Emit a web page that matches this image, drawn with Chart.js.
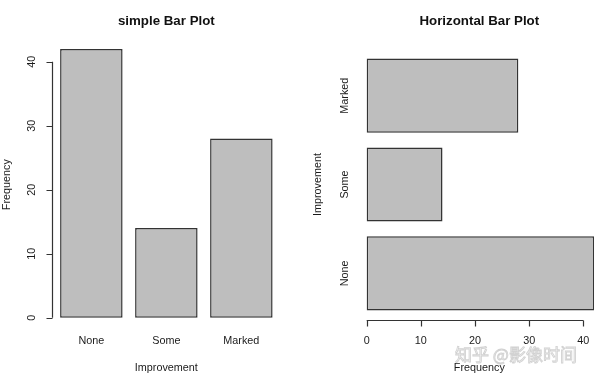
<!DOCTYPE html>
<html>
<head>
<meta charset="utf-8">
<script src="https://cdn.jsdelivr.net/npm/chart.js@4/dist/chart.umd.min.js"></script>
<style>
  html, body { margin: 0; padding: 0; background: #fff; }
  body { width: 600px; height: 381px; overflow: hidden; position: relative; }
  .panel { position: absolute; top: 0; }
</style>
</head>
<body>
<div class="panel" style="left:0;width:300px;height:381px"><canvas id="c1" width="300" height="381"></canvas></div>
<div class="panel" style="left:300px;width:300px;height:381px"><canvas id="c2" width="300" height="381"></canvas></div>
<script>
// ---- data ----
const categories = ['None', 'Some', 'Marked'];
const frequencies = [42, 14, 28];
const valueTicks = [0, 10, 20, 30, 40];
const titleLeft = 'simple Bar Plot';
const titleRight = 'Horizontal Bar Plot';
const catTitle = 'Improvement';
const valTitle = 'Frequency';
const watermark = '知乎 @影像时间';

const FONT = '"Liberation Sans", Arial, Helvetica, sans-serif';
const TXT = '#1a1a1a';
const AX = '#333333';
const space = 0.2; // R barplot space between bars
const barFrac = 1 / (1 + space);
const vMax = Math.max(...frequencies);
const vMin = -0.01 * vMax; // R barplot: range includes -0.01*height, yaxs="i"

// fraction of a category step from first bar centre to the R plot-region edge
function edgeFrac(n) {
  const lo = space, hi = n * (1 + space);
  const ext = 0.04 * (hi - lo);
  return (space + 0.5 - (lo - ext)) / (1 + space);
}

const rAxes = {
  id: 'rAxes',
  afterDraw(chart, args, o) {
    const ctx = chart.ctx;
    const horiz = o.horizontal;
    const vs = horiz ? chart.scales.x : chart.scales.y;
    const cs = horiz ? chart.scales.y : chart.scales.x;
    const n = categories.length;
    const c0 = cs.getPixelForValue(0);
    const cN = cs.getPixelForValue(n - 1);
    const step = (cN - c0) / (n - 1);
    const f = edgeFrac(n);
    const regA = c0 - f * step;   // region edge near first category
    const regB = cN + f * step;
    ctx.save();
    ctx.strokeStyle = AX;
    ctx.fillStyle = TXT;
    ctx.lineWidth = 1.2;
    const fs = 10.8;
    ctx.font = fs + 'px ' + FONT;
    const t0 = vs.getPixelForValue(valueTicks[0]);
    const t1 = vs.getPixelForValue(valueTicks[valueTicks.length - 1]);
    let regionMid;
    if (!horiz) {
      const ax = Math.round(regA) + 0.5;
      ctx.beginPath();
      ctx.moveTo(ax, t0); ctx.lineTo(ax, t1);
      valueTicks.forEach(v => {
        const p = Math.round(vs.getPixelForValue(v)) + 0.5;
        ctx.moveTo(ax, p); ctx.lineTo(ax - 6, p);
      });
      ctx.stroke();
      valueTicks.forEach(v => {
        const p = vs.getPixelForValue(v);
        ctx.save();
        ctx.translate(regA - 20, p);
        ctx.rotate(-Math.PI / 2);
        ctx.textAlign = 'center'; ctx.textBaseline = 'middle';
        ctx.fillText(String(v), 0, 0);
        ctx.restore();
      });
      const bottom = chart.chartArea.bottom;
      ctx.textAlign = 'center'; ctx.textBaseline = 'middle';
      categories.forEach((c, i) => ctx.fillText(c, cs.getPixelForValue(i), bottom + 20.3));
      regionMid = (regA + regB) / 2;
      ctx.fillText(catTitle, regionMid, bottom + 47.3);
      ctx.save();
      ctx.translate(regA - 45, (chart.chartArea.top + bottom) / 2);
      ctx.rotate(-Math.PI / 2);
      ctx.fillText(valTitle, 0, 0);
      ctx.restore();
    } else {
      const ay = Math.round(regA) + 0.5;
      ctx.beginPath();
      ctx.moveTo(t0, ay); ctx.lineTo(t1, ay);
      valueTicks.forEach(v => {
        const p = Math.round(vs.getPixelForValue(v)) + 0.5;
        ctx.moveTo(p, ay); ctx.lineTo(p, ay + 6);
      });
      ctx.stroke();
      ctx.textAlign = 'center'; ctx.textBaseline = 'middle';
      valueTicks.forEach(v => ctx.fillText(String(v), vs.getPixelForValue(v), regA + 20.3));
      const left = chart.chartArea.left;
      categories.forEach((c, i) => {
        ctx.save();
        ctx.translate(left - 19.4, cs.getPixelForValue(i));
        ctx.rotate(-Math.PI / 2);
        ctx.fillText(c, 0, 0);
        ctx.restore();
      });
      regionMid = (left + chart.chartArea.right) / 2;
      const vMid = (regA + regB) / 2;
      ctx.save();
      ctx.translate(left - 46, vMid);
      ctx.rotate(-Math.PI / 2);
      ctx.fillText(catTitle, 0, 0);
      ctx.restore();
      // watermark (outlined, light)
      ctx.save();
      ctx.font = '17px "Noto Sans CJK SC", sans-serif';
      ctx.textAlign = 'left'; ctx.textBaseline = 'middle';
      ctx.lineWidth = 0.9;
      ctx.strokeStyle = '#d2d2d2';
      ctx.fillStyle = '#ffffff';
      ctx.fillText(watermark, 155, 355);
      ctx.strokeText(watermark, 155, 355);
      ctx.restore();
      ctx.fillStyle = TXT;
      ctx.font = fs + 'px ' + FONT;
      ctx.fillText(valTitle, regionMid, regA + 47.9);
    }
    // title
    ctx.font = 'bold 13.3px ' + FONT;
    ctx.fillStyle = '#111';
    ctx.textAlign = 'center'; ctx.textBaseline = 'middle';
    ctx.fillText(o.title, regionMid, 21.7);
    ctx.restore();
  }
};

function makeChart(id, horiz, padding, title) {
  const valScale = { type: 'linear', display: false, min: vMin, max: vMax };
  const catScale = { type: 'category', display: false, offset: true, reverse: horiz };
  return new Chart(document.getElementById(id), {
    type: 'bar',
    data: {
      labels: categories,
      datasets: [{
        label: valTitle,
        data: frequencies,
        backgroundColor: '#bebebe',
        borderColor: '#333333',
        borderWidth: 1.5,
        borderSkipped: false,
        barPercentage: barFrac,
        categoryPercentage: 1
      }]
    },
    options: {
      indexAxis: horiz ? 'y' : 'x',
      responsive: false,
      animation: false,
      events: [],
      layout: { padding },
      scales: horiz ? { x: valScale, y: catScale } : { x: catScale, y: valScale },
      plugins: {
        legend: { display: false },
        title: { display: false },
        tooltip: { enabled: false },
        rAxes: { horizontal: horiz, title }
      }
    },
    plugins: [rAxes]
  });
}

makeChart('c1', false, { left: 53.85, right: 21.15, top: 48.9, bottom: 60.6 }, titleLeft);
makeChart('c2', true, { left: 64.4, right: 5.8, top: 51.2, bottom: 63.2 }, titleRight);
</script>
</body>
</html>
